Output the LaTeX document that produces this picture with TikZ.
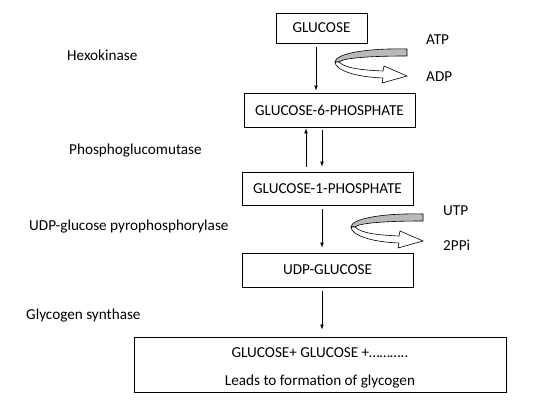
\documentclass[tikz,border=0pt]{standalone}
\usepackage{fontspec}
\setmainfont{Carlito}
\usetikzlibrary{arrows}

\tikzset{
  stage/.style={draw, rectangle, line width=0.9pt, minimum height=33pt, inner sep=2pt},
  enzyme/.style={anchor=west, inner sep=0pt},
  side/.style={anchor=west, inner sep=0pt},
  flow/.style={-latex, line width=0.7pt},
  pics/twist/.style={code={
    \draw[line width=0.6pt, fill=gray!55] (0,0) .. controls (-42,-1) and (-72,5) .. (-72,13)
      -- (-68,13) .. controls (-64,9) and (-37,7) .. (0,7) -- cycle;
    \draw[line width=0.6pt, fill=white] (-68,13) .. controls (-62,19) and (-47,21) .. (-24,22)
      -- (-23,17) -- (0,27) -- (-25,34) -- (-24,29)
      .. controls (-52,28) and (-72,21) .. (-72,13) -- cycle;
  }}
}

\begin{document}
\begin{tikzpicture}[x=1pt, y=-1pt, font=\fontsize{15.2}{18}\selectfont]
\useasboundingbox (0,0) rectangle (548,403);

\node[stage, minimum width=91pt, minimum height=30pt] (glc) at (321.5,28) {GLUCOSE};
\node[stage, minimum width=171pt, minimum height=34pt] (g6p) at (329.5,110) {GLUCOSE-6-PHOSPHATE};
\node[stage, minimum width=171pt] (g1p) at (327.5,188.5) {GLUCOSE-1-PHOSPHATE};
\node[stage, minimum width=171pt, minimum height=34pt] (udpg) at (327.5,270) {UDP-GLUCOSE};
\node[stage, minimum width=372pt, minimum height=55pt, align=center] (glyc) at (320,364.5)
  {\rule{0pt}{17pt}GLUCOSE+ GLUCOSE +………..\\[10pt]Leads to formation of glycogen};

\node[enzyme] (hexo) at (67,55) {Hexokinase};
\node[enzyme] (pgm) at (69,151) {Phosphoglucomutase};
\node[enzyme] (ugp) at (29,227) {UDP-glucose pyrophosphorylase};
\node[enzyme] (gs) at (26,316) {Glycogen synthase};

\node[side] (atp) at (426,40) {ATP};
\node[side] (adp) at (426,77) {ADP};
\node[side] (utp) at (443,211) {UTP};
\node[side] (ppi) at (443,245) {2PPi};

\pic at (407,49) {twist};
\pic at (423,214) {twist};

\coordinate (s1) at ([xshift=-5.5pt]glc.south);
\coordinate (s2) at ([xshift=-21.5pt]g1p.north);
\coordinate (s3) at ([xshift=-7.5pt]g6p.south);
\coordinate (s4) at ([xshift=-5.5pt]g1p.south);
\coordinate (s5) at ([xshift=-5.5pt]udpg.south);

\draw[flow, shorten <=4pt, shorten >=2pt] (s1) -- (s1 |- g6p.north);
\draw[flow, shorten <=5pt, shorten >=1pt] (s2) -- (s2 |- g6p.south);
\draw[flow, shorten <=3pt, shorten >=5pt] (s3) -- (s3 |- g1p.north);
\draw[flow, shorten <=4pt, shorten >=5pt] (s4) -- (s4 |- udpg.north);
\draw[flow, shorten <=4pt, shorten >=7pt] (s5) -- (s5 |- glyc.north);
\end{tikzpicture}
\end{document}
